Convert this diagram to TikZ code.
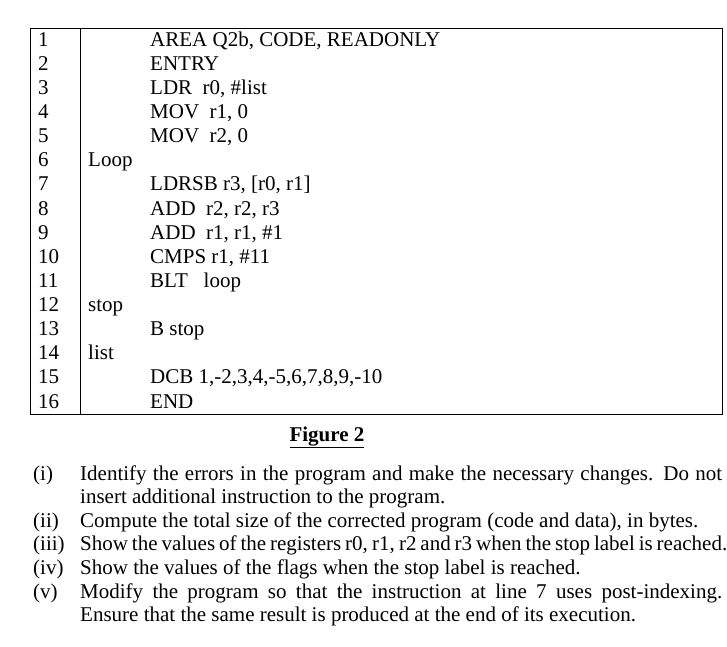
\documentclass[tikz,border=0pt]{standalone}
\usepackage{fontspec}
\setmainfont{Liberation Serif}
\begin{document}
\begin{tikzpicture}[x=1pt,y=-1pt,
  txt/.style={anchor=base west,inner sep=0pt,font=\fontsize{21}{24}\selectfont}]
\useasboundingbox (0,0) rectangle (727,646);
\draw[line width=0.8pt] (30,28) rectangle (722,414);
\draw[line width=0.8pt] (80,28) -- (80,414);
\foreach \i in {1,...,16} \node[txt] (n\i) at (38,{28+24.125*\i-6}) {\i};
\foreach \i/\t in {1/{AREA Q2b, CODE, READONLY},2/ENTRY,3/{LDR\ \ r0, \#list},4/{MOV\ \ r1, 0},5/{MOV\ \ r2, 0},
  7/{LDRSB r3, [r0, r1]},8/{ADD\ \ r2, r2, r3},9/{ADD\ \ r1, r1, \#1},10/{CMPS r1, \#11},11/{BLT\ \ \ loop},
  13/{B stop},15/{DCB 1,-2,3,4,-5,6,7,8,9,-10},16/END}
  \node[txt] (c\i) at (150,{28+24.125*\i-6}) {\t};
\node[txt] (l6) at (88,{28+24.125*6-6}) {Loop};
\node[txt] (l12) at (88,{28+24.125*12-6}) {stop};
\node[txt] (l14) at (88,{28+24.125*14-6}) {list};
\node[txt,anchor=base] (fig) at (327,441) {\textbf{\underline{Figure 2}}};
\node[txt] (r1) at (33,480) {(i)};
\node[txt] (t1) at (80,480) {\makebox[642pt][s]{Identify the errors in the program and make the necessary changes. Do not}};
\node[txt] (t1b) at (80,503) {insert additional instruction to the program.};
\node[txt] (r2) at (33,527) {(ii)};
\node[txt] (t2) at (80,527) {Compute the total size of the corrected program (code and data), in bytes.};
\node[txt] (r3) at (33,550) {(iii)};
\node[txt] (t3) at (80,550) {\makebox[647pt][s]{Show the values of the registers r0, r1, r2 and r3 when the stop label is reached.}};
\node[txt] (r4) at (33,574) {(iv)};
\node[txt] (t4) at (80,574) {Show the values of the flags when the stop label is reached.};
\node[txt] (r5) at (33,598) {(v)};
\node[txt] (t5) at (80,598) {\makebox[642pt][s]{Modify the program so that the instruction at line 7 uses post-indexing.}};
\node[txt] (t5b) at (80,621) {Ensure that the same result is produced at the end of its execution.};
\end{tikzpicture}
\end{document}
